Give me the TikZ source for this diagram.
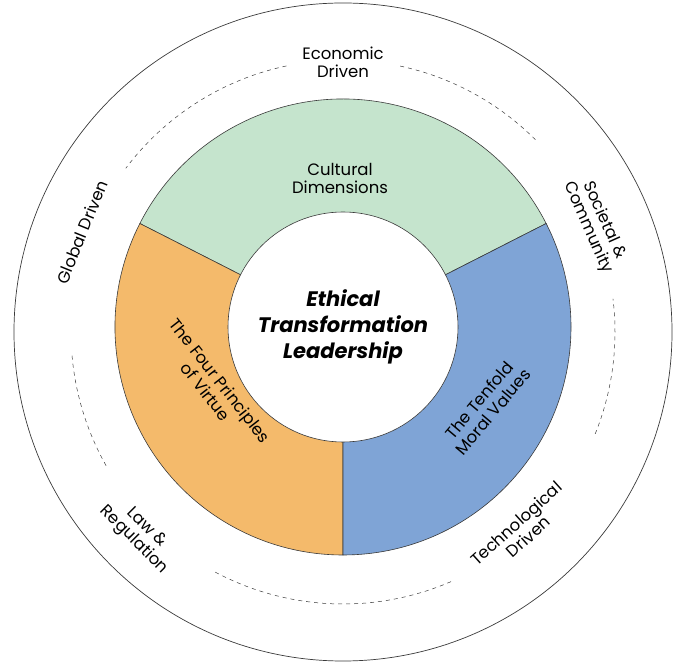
\documentclass[tikz,border=0pt]{standalone}
\usepackage{fontspec}
\setmainfont{Poppins}
\definecolor{cgreen}{HTML}{C5E4CD}
\definecolor{corange}{HTML}{F4BA6B}
\definecolor{cblue}{HTML}{7FA4D6}
\definecolor{cline}{HTML}{3A3A3A}
\begin{document}
\begin{tikzpicture}[x=1pt,y=1pt,
  lbl/.style={align=center,font=\fontsize{16.5}{18}\selectfont,text=black,inner sep=1pt},
  seg/.style={draw=cline,line width=0.6pt}]
\useasboundingbox (0,0) rectangle (685,664);
\coordinate (o) at (343,332);
\coordinate (c) at (343,337);
% outer circle
\draw[cline,line width=0.7pt] (o) circle (329);
% dashed arcs
\foreach \a/\b in {45/78,-22/7,-118/-66,185/210,102/143}
  \draw[cline,line width=0.5pt,dash pattern=on 4pt off 4pt] (o) ++(\a:272) arc[start angle=\a,end angle=\b,radius=272];
% sectors
\path[seg,fill=cgreen] (c) -- ++(27:228) arc[start angle=27,end angle=153,radius=228] -- cycle;
\path[seg,fill=corange] (c) -- ++(153:228) arc[start angle=153,end angle=270,radius=228] -- cycle;
\path[seg,fill=cblue] (c) -- ++(270:228) arc[start angle=270,end angle=387,radius=228] -- cycle;
\node[circle,fill=white,draw=cline,line width=0.6pt,minimum size=230pt] (core) at (c) {};
\node[align=center,font=\bfseries\itshape\fontsize{21}{26}\selectfont] (title) at (c) {Ethical\\Transformation\\Leadership};
% ring labels
\node[lbl] (cult) at (340,486) {Cultural\\Dimensions};
\node[lbl,rotate=-52] (four) at (213,278) {The Four Principles\\of Virtue};
\node[lbl,rotate=50] (ten) at (486,258) {The Tenfold\\Moral Values};
% outer labels
\node[lbl] (eco) at (343,602) {Economic\\Driven};
\node[lbl,rotate=68] (glob) at (82,432) {Global Driven};
\node[lbl,rotate=-66] (soc) at (596,440) {Societal \&\\Community};
\node[lbl,rotate=-45] (law) at (140,130) {Law \&\\Regulation};
\node[lbl,rotate=42] (tech) at (522,134) {Technological\\Driven};
\end{tikzpicture}
\end{document}
